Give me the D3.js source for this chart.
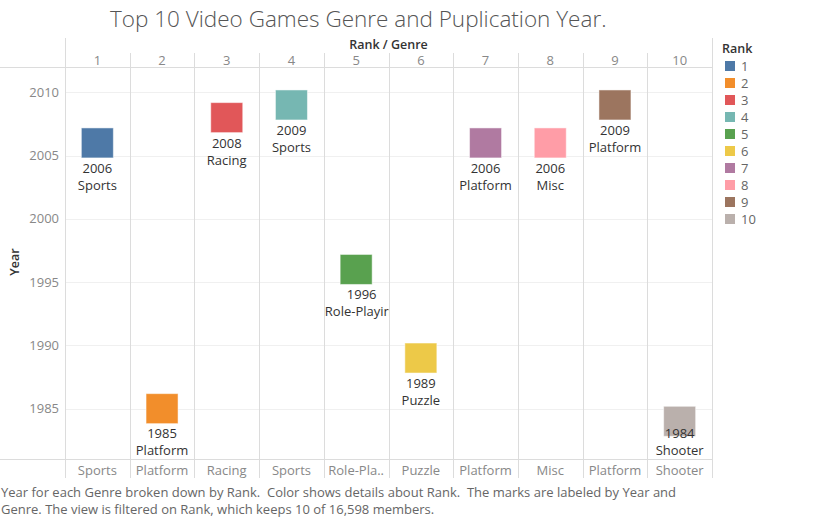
<html>
<head>
<meta charset="utf-8">
<script src="https://cdn.jsdelivr.net/npm/d3@7"></script>
<style>
  body { margin: 0; background: #fff; }
  text { font-family: "Open Sans", "Noto Sans", sans-serif; white-space: pre; }
</style>
</head>
<body>
<div id="chart"></div>
<script>
var ranks  = [1, 2, 3, 4, 5, 6, 7, 8, 9, 10];
var genres = ["Sports", "Platform", "Racing", "Sports", "Role-Playing", "Puzzle", "Platform", "Misc", "Platform", "Shooter"];
var genreTicks = ["Sports", "Platform", "Racing", "Sports", "Role-Pla..", "Puzzle", "Platform", "Misc", "Platform", "Shooter"];
var years  = [2006, 1985, 2008, 2009, 1996, 1989, 2006, 2006, 2009, 1984];
var yearTicks = [1985, 1990, 1995, 2000, 2005, 2010];
var colors = ["#4e79a7", "#f28e2b", "#e15759", "#76b7b2", "#59a14f", "#edc948", "#b07aa1", "#ff9da7", "#9c755f", "#bab0ac"];

var W = 823, H = 519;
var pLeft = 65, pRight = 712, pTop = 67, pBottom = 459;

var svg = d3.select("#chart").append("svg").attr("width", W).attr("height", H);

var x = d3.scaleBand().domain(ranks).range([pLeft, pRight]);
var y = d3.scaleLinear().domain([1981.02, 2012]).range([pBottom, pTop]);
var color = d3.scaleOrdinal().domain(ranks).range(colors);

// title
svg.append("text").attr("x", 110).attr("y", 27)
  .style("font-size", "22.5px").style("font-weight", 300).style("fill", "#555")
  .text("Top 10 Video Games Genre and Puplication Year.");

// horizontal grid
svg.selectAll(".grid").data(yearTicks).enter().append("line")
  .attr("x1", pLeft).attr("x2", pRight)
  .attr("y1", function(d) { return Math.round(y(d)) + 0.5; })
  .attr("y2", function(d) { return Math.round(y(d)) + 0.5; })
  .style("stroke", "#f0f0f0");

// column lines
svg.selectAll(".col").data(ranks.slice(1)).enter().append("line")
  .attr("x1", function(d) { return Math.round(x(d)) + 0.5; })
  .attr("x2", function(d) { return Math.round(x(d)) + 0.5; })
  .attr("y1", 53).attr("y2", 478)
  .style("stroke", "#dcdcdc");
[pLeft, pRight].forEach(function(px) {
  svg.append("line").attr("x1", px + 0.5).attr("x2", px + 0.5).attr("y1", 38).attr("y2", 478)
    .style("stroke", "#dcdcdc");
});
[pTop, pBottom].forEach(function(py) {
  svg.append("line").attr("x1", 0).attr("x2", pRight).attr("y1", py + 0.5).attr("y2", py + 0.5)
    .style("stroke", "#dcdcdc");
});

// header
svg.append("text").attr("x", (pLeft + pRight) / 2).attr("y", 49).attr("text-anchor", "middle")
  .style("font-size", "12.5px").style("font-weight", 600).style("fill", "#333")
  .text("Rank / Genre");
svg.selectAll(".rk").data(ranks).enter().append("text")
  .attr("x", function(d) { return x(d) + x.bandwidth() / 2; })
  .attr("y", 65).attr("text-anchor", "middle")
  .style("font-size", "13px").style("fill", "#888")
  .text(function(d) { return d; });

// genre ticks
svg.selectAll(".gn").data(genreTicks).enter().append("text")
  .attr("x", function(d, i) { return x(ranks[i]) + x.bandwidth() / 2; })
  .attr("y", 475).attr("text-anchor", "middle")
  .style("font-size", "13px").style("fill", "#888")
  .text(function(d) { return d; });

// y axis
svg.selectAll(".yt").data(yearTicks).enter().append("text")
  .attr("x", 59).attr("y", function(d) { return y(d) + 4.5; })
  .attr("text-anchor", "end")
  .style("font-size", "13px").style("fill", "#888")
  .text(function(d) { return d; });
svg.append("text").attr("transform", "translate(19,262) rotate(-90)")
  .attr("text-anchor", "middle")
  .style("font-size", "12.5px").style("font-weight", 600).style("fill", "#333")
  .text("Year");

// clip paths per column
var defs = svg.append("defs");
ranks.forEach(function(r) {
  defs.append("clipPath").attr("id", "clip" + r).append("rect")
    .attr("x", x(r) + 1).attr("y", pTop).attr("width", x.bandwidth() - 1).attr("height", pBottom - pTop);
});

// marks
var sq = 32, sh = 30;
var marks = svg.selectAll(".mark").data(ranks).enter().append("g")
  .attr("clip-path", function(d) { return "url(#clip" + d + ")"; });
marks.append("rect")
  .attr("x", function(d) { return x(d) + x.bandwidth() / 2 - sq / 2; })
  .attr("y", function(d, i) { return y(years[i]) - sh / 2; })
  .attr("width", sq).attr("height", sh)
  .style("fill", function(d) { return color(d); })
  .style("stroke", "#fff").style("stroke-opacity", 0.5);
marks.each(function(d, i) {
  var cy = y(years[i]);
  var l1 = cy + 30;
  if (l1 + 17 > pBottom - 4) l1 = pBottom - 4 - 17;
  var g = d3.select(this);
  var cx = x(d) + x.bandwidth() / 2;
  var t1 = g.append("text").attr("y", l1).attr("text-anchor", "middle")
    .style("font-size", "13px").style("fill", "#333").text(years[i]);
  var t2 = g.append("text").attr("y", l1 + 17).attr("text-anchor", "middle")
    .style("font-size", "13px").style("fill", "#333").text(genres[i]);
  // wide label block: keep its left edge inside the column
  var wMax = Math.max(t1.node().getComputedTextLength(), t2.node().getComputedTextLength());
  if (wMax > x.bandwidth() - 2) cx = x(d) + 1 + wMax / 2;
  t1.attr("x", cx);
  t2.attr("x", cx);
});

// legend
svg.append("text").attr("x", 722).attr("y", 53)
  .style("font-size", "12.5px").style("font-weight", 600).style("fill", "#333").text("Rank");
var lg = svg.selectAll(".lg").data(ranks).enter().append("g")
  .attr("transform", function(d, i) { return "translate(725," + (61 + i * 17) + ")"; });
lg.append("rect").attr("width", 10).attr("height", 10)
  .style("fill", function(d) { return color(d); });
lg.append("text").attr("x", 16).attr("y", 10)
  .style("font-size", "13px").style("fill", "#666").text(function(d) { return d; });

// caption
var cap = ["Year for each Genre broken down by Rank.  Color shows details about Rank.  The marks are labeled by Year and",
           "Genre. The view is filtered on Rank, which keeps 10 of 16,598 members."];
svg.selectAll(".cap").data(cap).enter().append("text")
  .attr("x", 1).attr("y", function(d, i) { return 497 + i * 17; })
  .style("font-size", "13px").style("fill", "#666")
  .text(function(d) { return d; });
</script>
</body>
</html>
